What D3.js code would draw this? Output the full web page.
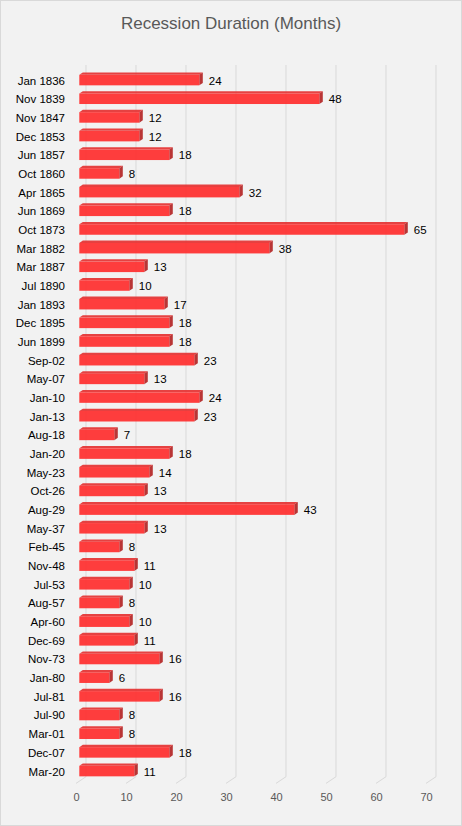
<!DOCTYPE html>
<html><head><meta charset="utf-8">
<script src="https://cdn.jsdelivr.net/npm/d3@7"></script>
<style>body{margin:0;background:#fff}svg{display:block}text{font-family:"Liberation Sans",Arial,sans-serif}</style>
</head><body>
<svg id="c" width="462" height="826"></svg>
<script>
const categories = ["Jan 1836","Nov 1839","Nov 1847","Dec 1853","Jun 1857","Oct 1860","Apr 1865","Jun 1869","Oct 1873","Mar 1882","Mar 1887","Jul 1890","Jan 1893","Dec 1895","Jun 1899","Sep-02","May-07","Jan-10","Jan-13","Aug-18","Jan-20","May-23","Oct-26","Aug-29","May-37","Feb-45","Nov-48","Jul-53","Aug-57","Apr-60","Dec-69","Nov-73","Jan-80","Jul-81","Jul-90","Mar-01","Dec-07","Mar-20"];
const months = [24,48,12,12,18,8,32,18,65,38,13,10,17,18,18,23,13,24,23,7,18,14,13,43,13,8,11,10,8,10,11,16,6,16,8,8,18,11];
const tickValues = [0,10,20,30,40,50,60,70];
const title = "Recession Duration (Months)";

const W = 462, H = 826;
const svg = d3.select("#c");
svg.append("rect").attr("x",0.5).attr("y",0.5).attr("width",W-1).attr("height",H-1)
  .attr("fill","#f2f2f2").attr("stroke","#d9d9d9");

svg.append("text").attr("x",231).attr("y",29).attr("text-anchor","middle")
  .attr("font-size",17).attr("fill","#595959").text(title);

const x = d3.scaleLinear().domain([0,70]).range([76,426]);
const y = d3.scalePoint().domain(categories).range([80,771]);
const DX = 10, DY = -6.7;
const gridTop = 65, floorBack = 776.7;

const g = svg.append("g").attr("stroke","#d9d9d9").attr("stroke-width",1).attr("fill","none");
tickValues.forEach(t=>{
  const xf = x(t), xb = xf + DX;
  g.append("path").attr("d",`M${xb},${gridTop}V${floorBack}L${xf},${floorBack-DY}`);
});

const axis = d3.axisBottom(x).tickValues(tickValues).tickSize(0).tickPadding(0);
const ax = svg.append("g").attr("transform","translate(0,793)").call(axis);
ax.select(".domain").remove();
ax.selectAll("text").attr("font-size",11).attr("fill","#595959")
  .style("font-family",'"Liberation Sans",Arial,sans-serif');

const f1 = 0.33, f2 = 0.68;
const bh = 10.5;
const bars = svg.append("g");
categories.forEach((c,i)=>{
  const v = months[i];
  const cy = y(c);
  const x0 = x(0) + f1*DX, x1 = x(v) + f1*DX;
  const yTop = cy - bh/2 + f1*DY + 2.3, yBot = yTop + bh;
  const ddx = (f2-f1)*DX, ddy = (f2-f1)*DY;
  bars.append("path").attr("d",`M${x0},${yTop}L${x0+ddx},${yTop+ddy}L${x1+ddx},${yTop+ddy}L${x1},${yTop}Z`)
    .attr("fill","#e42e2e").attr("fill-opacity",0.9);
  bars.append("path").attr("d",`M${x1},${yTop}L${x1+ddx},${yTop+ddy}L${x1+ddx},${yBot+ddy}L${x1},${yBot}Z`)
    .attr("fill","#b32020").attr("fill-opacity",0.9);
  bars.append("rect").attr("x",x0).attr("y",yTop).attr("width",x1-x0).attr("height",bh)
    .attr("fill","#ff2e2e").attr("fill-opacity",0.92);
  bars.append("text").attr("x",x1+ddx+6).attr("y",cy+4.5).attr("font-size",11.5).attr("fill","#000").text(v);
  bars.append("text").attr("x",65).attr("y",cy+4.5).attr("text-anchor","end").attr("font-size",11.5).attr("fill","#000").text(c);
});
</script>
</body></html>
